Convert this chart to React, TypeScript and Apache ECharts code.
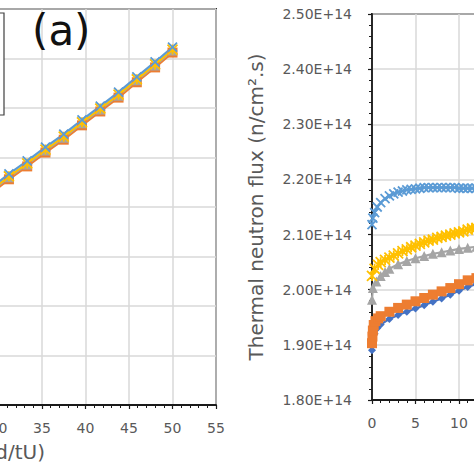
import React, { useEffect, useRef } from "react";
import * as echarts from "echarts";

// ---------- Panel (a): value vs burnup (GWd/tU) ----------
const leftBurnup = [29.1, 31.2, 33.3, 35.4, 37.5, 39.6, 41.7, 43.8, 45.9, 48.0, 50.0];
const leftDarkBlue = [4.29, 4.58, 4.84, 5.12, 5.38, 5.67, 5.95, 6.23, 6.54, 6.84, 7.14];
const leftOrange = [4.27, 4.56, 4.82, 5.1, 5.36, 5.65, 5.93, 6.21, 6.52, 6.82, 7.12];
const leftGrey = [4.31, 4.6, 4.86, 5.14, 5.4, 5.69, 5.97, 6.25, 6.56, 6.86, 7.16];
const leftYellow = [4.33, 4.62, 4.88, 5.16, 5.42, 5.71, 5.99, 6.27, 6.58, 6.88, 7.18];
const leftLightBlue = [4.38, 4.67, 4.93, 5.21, 5.47, 5.76, 6.04, 6.32, 6.63, 6.93, 7.23];

// ---------- Panel (b): thermal neutron flux (×1E14 n/cm².s) vs time ----------
const darkBlueX = [0, 0.1, 0.3, 0.6, 1, 2, 3, 4, 5, 6, 7, 8, 9, 10, 11, 12];
const darkBlueY = [1.89, 1.905, 1.92, 1.93, 1.937, 1.947, 1.954, 1.96, 1.966, 1.972, 1.978, 1.984, 1.991, 1.998, 2.005, 2.01];
const orangeX = [0, 0.05, 0.1, 0.2, 0.4, 0.7, 1, 2, 3, 4, 5, 6, 7, 8, 9, 10, 11, 12];
const orangeY = [1.903, 1.915, 1.926, 1.936, 1.943, 1.948, 1.952, 1.96, 1.967, 1.973, 1.979, 1.985, 1.991, 1.997, 2.003, 2.01, 2.017, 2.021];
const greyX = [0, 0.1, 0.5, 1, 1.5, 2, 3, 4, 5, 6, 7, 8, 9, 10, 11, 12];
const greyY = [1.982, 2.003, 2.015, 2.025, 2.032, 2.038, 2.046, 2.052, 2.057, 2.061, 2.065, 2.068, 2.071, 2.074, 2.076, 2.078];
const yellowX = [0, 0.3, 0.7, 1, 1.5, 2, 2.5, 3, 3.5, 4, 4.5, 5, 5.5, 6, 6.5, 7, 7.5, 8, 8.5, 9, 9.5, 10, 10.5, 11, 11.5, 12];
const yellowY = [2.025, 2.038, 2.045, 2.05, 2.054, 2.058, 2.062, 2.066, 2.07, 2.073, 2.077, 2.08, 2.083, 2.086, 2.089, 2.091, 2.094, 2.096, 2.098, 2.1, 2.102, 2.104, 2.106, 2.109, 2.111, 2.112];
const lightBlueX = [0, 0.1, 0.3, 0.6, 1, 1.5, 2, 2.5, 3, 3.5, 4, 4.5, 5, 5.5, 6, 6.5, 7, 7.5, 8, 8.5, 9, 9.5, 10, 10.5, 11, 11.5, 12, 12.5];
const lightBlueY = [2.118, 2.13, 2.14, 2.15, 2.158, 2.165, 2.17, 2.174, 2.177, 2.179, 2.181, 2.182, 2.183, 2.184, 2.185, 2.185, 2.185, 2.185, 2.185, 2.185, 2.185, 2.185, 2.184, 2.184, 2.184, 2.184, 2.184, 2.184];

const leftTicks = [0, 55, 5];
const rightYRange = [1.8e14, 2.5e14, 1e13];
const leftXTitle = "Burnup (GWd/tU)";
const rightYTitle = "Thermal neutron flux (n/cm\u00b2.s)";
const panelLabel = "(a)";

const FONT = "DejaVu Sans";
const XMARK = "path://M0,0L10,10M10,0L0,10";
const STAR = "path://M0,0L10,10M10,0L0,10M5,0L5,10";

const COLORS = {
  darkBlue: "#4472c4",
  orange: "#ed7d31",
  grey: "#a5a5a5",
  yellow: "#ffc000",
  lightBlue: "#5b9bd5",
};

function pairs(xs: number[], ys: number[], scale = 1) {
  return xs.map((x, i) => [x, ys[i] * scale]);
}

function mkSeries(name: string, color: string, symbol: string, size: number, data: number[][], xIdx: number, stroke: boolean) {
  return {
    type: "line",
    name,
    xAxisIndex: xIdx,
    yAxisIndex: xIdx,
    data,
    symbol,
    symbolSize: size,
    showSymbol: true,
    lineStyle: { color, width: 2.2 },
    itemStyle: stroke
      ? { color, borderColor: color, borderWidth: 1.8 }
      : { color, borderColor: color, borderWidth: 0 },
    clip: true,
    z: 3,
  };
}

export default function App() {
  const ref = useRef<HTMLDivElement>(null);
  useEffect(() => {
    if (!ref.current) return;
    const chart = echarts.init(ref.current, undefined, { renderer: "svg" });
    const axisLine = { show: true, lineStyle: { color: "#1a1a1a", width: 1.8 } };
    const splitLine = { show: true, lineStyle: { color: "#d9d9d9", width: 1.5 } };
    const tickLabel = { color: "#595959", fontFamily: FONT, fontSize: 14 };
    const option: any = {
      animation: false,
      backgroundColor: "#ffffff",
      grid: [
        { left: -262.5, top: 9, width: 478.5, height: 396, show: true, borderColor: "#1a1a1a", borderWidth: 1.8, containLabel: false, outerBoundsMode: "none" },
        { left: 372, top: 14, width: 478.5, height: 386, show: true, borderColor: "#1a1a1a", borderWidth: 1.8, containLabel: false, outerBoundsMode: "none" },
      ],
      xAxis: [
        {
          gridIndex: 0, type: "value", min: leftTicks[0], max: leftTicks[1], interval: leftTicks[2],
          axisLine, splitLine,
          axisTick: { show: true, inside: false, length: 4, lineStyle: { color: "#1a1a1a", width: 1.2 } },
          minorTick: { show: true, splitNumber: 5, length: 3, lineStyle: { color: "#1a1a1a", width: 1 } },
          axisLabel: { ...tickLabel, margin: 16 },
        },
        {
          gridIndex: 1, type: "value", min: leftTicks[0], max: leftTicks[1], interval: leftTicks[2],
          axisLine, splitLine,
          axisTick: { show: true, inside: false, length: 4, lineStyle: { color: "#1a1a1a", width: 1.2 } },
          minorTick: { show: true, splitNumber: 5, length: 3, lineStyle: { color: "#1a1a1a", width: 1 } },
          axisLabel: { ...tickLabel, margin: 16 },
        },
      ],
      yAxis: [
        {
          gridIndex: 0, type: "value", min: 0, max: 8, interval: 1,
          axisLine, splitLine,
          axisTick: { show: true, length: 4 },
          axisLabel: { show: false },
        },
        {
          gridIndex: 1, type: "value", min: rightYRange[0], max: rightYRange[1], interval: rightYRange[2],
          axisLine, splitLine,
          axisTick: { show: true, inside: false, length: 4, lineStyle: { color: "#1a1a1a", width: 1.2 } },
          minorTick: { show: true, splitNumber: 5, length: 3, lineStyle: { color: "#1a1a1a", width: 1 } },
          axisLabel: { ...tickLabel, margin: 20, formatter: (v: number) => v.toExponential(2).toUpperCase() },
          name: rightYTitle,
          nameLocation: "middle",
          nameGap: 106,
          nameTextStyle: { color: "#595959", fontFamily: FONT, fontSize: 20 },
        },
      ],
      series: [
        mkSeries("Case 1", COLORS.darkBlue, "diamond", 8, pairs(leftBurnup, leftDarkBlue), 0, false),
        mkSeries("Case 2", COLORS.orange, "rect", 10, pairs(leftBurnup, leftOrange), 0, false),
        mkSeries("Case 3", COLORS.grey, "triangle", 10, pairs(leftBurnup, leftGrey), 0, false),
        mkSeries("Case 4", COLORS.yellow, STAR, 10, pairs(leftBurnup, leftYellow), 0, true),
        mkSeries("Case 5", COLORS.lightBlue, XMARK, 9, pairs(leftBurnup, leftLightBlue), 0, true),
        mkSeries("Case 1 flux", COLORS.darkBlue, "diamond", 8, pairs(darkBlueX, darkBlueY, 1e14), 1, false),
        mkSeries("Case 2 flux", COLORS.orange, "rect", 10, pairs(orangeX, orangeY, 1e14), 1, false),
        mkSeries("Case 3 flux", COLORS.grey, "triangle", 10, pairs(greyX, greyY, 1e14), 1, false),
        mkSeries("Case 4 flux", COLORS.yellow, STAR, 10, pairs(yellowX, yellowY, 1e14), 1, true),
        mkSeries("Case 5 flux", COLORS.lightBlue, XMARK, 9, pairs(lightBlueX, lightBlueY, 1e14), 1, true),
      ],
      graphic: [
        { type: "rect", shape: { x: -60, y: 13, width: 64, height: 102 }, style: { fill: "#ffffff", stroke: "#404040", lineWidth: 1.2 }, z: 10 },
        { type: "text", x: 32, y: 30, style: { text: panelLabel, fill: "#111111", font: `42px '${FONT}'`, align: "left", verticalAlign: "middle" }, z: 10 },
        { type: "text", x: 45, y: 452, style: { text: leftXTitle, fill: "#595959", font: `20px '${FONT}'`, align: "right", verticalAlign: "middle" }, z: 10 },
      ],
    };
    chart.setOption(option);
    return () => chart.dispose();
  }, []);
  return <div ref={ref} style={{ position: "absolute", left: 0, top: 0, width: 474, height: 474 }} />;
}
